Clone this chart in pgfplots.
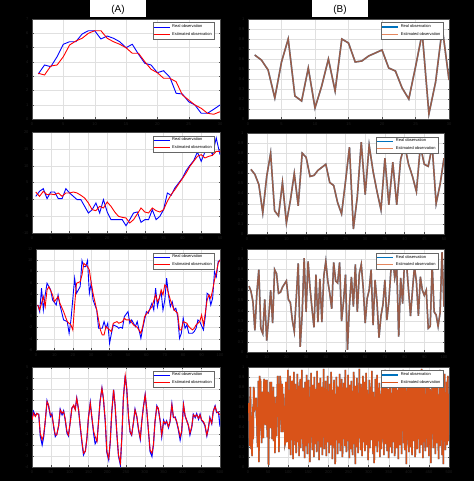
\documentclass[border=0pt]{standalone}
\usepackage{fontspec}
\setmainfont{Liberation Sans}
\usepackage{pgfplots}
\usepackage{pgfplotstable}
\pgfplotsset{compat=1.18}
\definecolor{mblue}{rgb}{0,0.447,0.741}
\definecolor{morange}{rgb}{0.85,0.325,0.098}
\definecolor{ticklab}{RGB}{30,30,30}

\pgfplotsset{
  panel/.style={
    scale only axis, anchor=south west,
    axis background/.style={fill=white},
    grid=major, grid style={black!12, line width=0.3pt},
    axis line style={black!70, line width=0.3pt},
    tick align=inside, major tick length=1.5pt,
    tick style={black!70, line width=0.3pt},
    ticklabel style={font=\fontsize{4}{4}\selectfont, text=ticklab},
    /pgf/number format/assume math mode=true,
    scaled ticks=false,
    yticklabel style={/pgf/number format/fixed},
    legend style={at={(0.97,0.965)}, anchor=north east, draw=black!60,
      line width=0.3pt, font=\fontsize{4}{4.2}\selectfont,
      inner sep=0.4pt, row sep=-1.2pt, cells={anchor=west}},
    legend image code/.code={\draw[#1] (0pt,0pt) -- (16pt,0pt);},
  },
  bpanel/.style={panel, ymin=0, ymax=1, ytick distance=0.1},
}

% Panel (B): real observations (estimates coincide)
\pgfplotstableread[row sep=\\]{
x y\\
1 0.64\\2 0.59\\3 0.49\\4 0.21\\5 0.57\\6 0.80\\7 0.23\\8 0.18\\9 0.51\\10 0.11\\
11 0.33\\12 0.60\\13 0.28\\14 0.80\\15 0.76\\16 0.57\\17 0.58\\18 0.63\\19 0.66\\20 0.69\\
21 0.51\\22 0.48\\23 0.31\\24 0.20\\25 0.52\\26 0.86\\27 0.05\\28 0.37\\29 0.91\\30 0.39\\
31 0.88\\32 0.62\\33 0.42\\34 0.24\\35 0.75\\36 0.29\\37 0.71\\38 0.29\\39 0.74\\40 0.88\\
41 0.69\\42 0.57\\43 0.42\\44 0.87\\45 0.69\\46 0.67\\47 0.87\\48 0.30\\49 0.49\\50 0.75\\
51 0.02\\52 0.45\\53 0.73\\54 0.44\\55 0.85\\56 0.39\\57 0.76\\58 0.85\\59 0.62\\60 0.28\\
61 0.52\\62 0.60\\63 0.80\\64 0.26\\65 0.70\\66 0.48\\67 0.14\\68 0.35\\69 0.46\\70 0.70\\
71 0.31\\72 0.49\\73 0.78\\74 0.91\\75 0.72\\76 0.83\\77 0.15\\78 0.72\\79 0.47\\80 0.91\\
81 0.85\\82 0.60\\83 0.35\\84 0.60\\85 0.83\\86 0.68\\87 0.35\\88 0.73\\89 0.60\\90 0.55\\
91 0.60\\92 0.23\\93 0.25\\94 0.85\\95 0.39\\96 0.36\\97 0.25\\98 0.38\\99 0.97\\100 0.44\\
101 0.52\\102 0.18\\103 0.77\\104 0.35\\105 0.91\\106 0.12\\107 0.64\\108 0.43\\109 0.86\\110 0.27\\
111 0.71\\112 0.08\\113 0.58\\114 0.95\\115 0.31\\116 0.66\\117 0.22\\118 0.83\\119 0.47\\120 0.14\\
121 0.69\\122 0.38\\123 0.93\\124 0.25\\125 0.56\\126 0.81\\127 0.11\\128 0.62\\129 0.44\\130 0.88\\
131 0.19\\132 0.73\\133 0.36\\134 0.97\\135 0.28\\136 0.54\\137 0.16\\138 0.79\\139 0.41\\140 0.67\\
141 0.09\\142 0.85\\143 0.33\\144 0.60\\145 0.21\\146 0.92\\147 0.48\\148 0.13\\149 0.75\\150 0.39\\
151 0.87\\152 0.24\\153 0.63\\154 0.05\\155 0.70\\156 0.45\\157 0.94\\158 0.30\\159 0.57\\160 0.17\\
161 0.82\\162 0.40\\163 0.68\\164 0.10\\165 0.90\\166 0.34\\167 0.61\\168 0.23\\169 0.78\\170 0.50\\
171 0.15\\172 0.96\\173 0.42\\174 0.72\\175 0.26\\176 0.84\\177 0.07\\178 0.59\\179 0.37\\180 0.89\\
181 0.20\\182 0.65\\183 0.46\\184 0.80\\185 0.12\\186 0.74\\187 0.32\\188 0.98\\189 0.53\\190 0.18\\
191 0.70\\192 0.29\\193 0.86\\194 0.43\\195 0.11\\196 0.63\\197 0.38\\198 0.91\\199 0.25\\200 0.76\\
201 0.49\\202 0.14\\203 0.83\\204 0.35\\205 0.60\\206 0.22\\207 0.95\\208 0.41\\209 0.68\\210 0.08\\
211 0.77\\212 0.30\\213 0.55\\214 0.87\\215 0.19\\216 0.66\\217 0.03\\218 0.73\\219 0.44\\220 0.90\\
221 0.27\\222 0.58\\223 0.13\\224 0.80\\225 0.39\\226 0.69\\227 0.24\\228 0.93\\229 0.51\\230 0.16\\
231 0.75\\232 0.34\\233 0.88\\234 0.45\\235 0.10\\236 0.62\\237 0.28\\238 0.84\\239 0.40\\240 0.71\\
241 0.21\\242 0.97\\243 0.36\\244 0.57\\245 0.15\\246 0.79\\247 0.47\\248 0.26\\249 0.92\\250 0.33\\
251 0.64\\252 0.09\\253 0.82\\254 0.42\\255 0.70\\256 0.18\\257 0.86\\258 0.31\\259 0.59\\260 0.12\\
261 0.76\\262 0.44\\263 0.95\\264 0.23\\265 0.67\\266 0.37\\267 0.03\\268 0.81\\269 0.50\\270 0.20\\
271 0.89\\272 0.35\\273 0.61\\274 0.14\\275 0.74\\276 0.46\\277 0.98\\278 0.29\\279 0.65\\280 0.17\\
281 0.83\\282 0.39\\283 0.72\\284 0.11\\285 0.56\\286 0.91\\287 0.25\\288 0.68\\289 0.43\\290 0.85\\
291 0.16\\292 0.60\\293 0.32\\294 0.94\\295 0.48\\296 0.22\\297 0.77\\298 0.37\\299 0.07\\300 0.69\\
301 0.52\\302 0.87\\303 0.19\\304 0.63\\305 0.41\\306 0.80\\307 0.27\\308 0.96\\309 0.34\\310 0.58\\
311 0.13\\312 0.75\\313 0.45\\314 0.04\\315 0.70\\316 0.30\\317 0.88\\318 0.21\\319 0.66\\320 0.38\\
321 0.92\\322 0.15\\323 0.57\\324 0.79\\325 0.26\\326 0.49\\327 0.84\\328 0.10\\329 0.73\\330 0.36\\
331 0.62\\332 0.18\\333 0.90\\334 0.44\\335 0.28\\336 0.81\\337 0.53\\338 0.12\\339 0.70\\340 0.40\\
341 0.97\\342 0.23\\343 0.64\\344 0.35\\345 0.86\\346 0.16\\347 0.59\\348 0.47\\349 0.78\\350 0.09\\
351 0.68\\352 0.31\\353 0.93\\354 0.42\\355 0.20\\356 0.74\\357 0.55\\358 0.14\\359 0.83\\360 0.37\\
361 0.60\\362 0.25\\363 0.89\\364 0.46\\365 0.11\\366 0.71\\367 0.33\\368 0.95\\369 0.50\\370 0.19\\
371 0.77\\372 0.40\\373 0.65\\374 0.08\\375 0.85\\376 0.29\\377 0.58\\378 0.22\\379 0.91\\380 0.43\\
381 0.67\\382 0.13\\383 0.80\\384 0.36\\385 0.54\\386 0.97\\387 0.24\\388 0.72\\389 0.45\\390 0.17\\
391 0.87\\392 0.32\\393 0.61\\394 0.03\\395 0.76\\396 0.39\\397 0.94\\398 0.27\\399 0.56\\400 0.15\\
401 0.82\\402 0.48\\403 0.70\\404 0.20\\405 0.90\\406 0.34\\407 0.63\\408 0.12\\409 0.79\\410 0.43\\
411 0.96\\412 0.26\\413 0.57\\414 0.38\\415 0.85\\416 0.10\\417 0.69\\418 0.31\\419 0.88\\420 0.45\\
421 0.18\\422 0.74\\423 0.52\\424 0.93\\425 0.28\\426 0.60\\427 0.14\\428 0.83\\429 0.41\\430 0.66\\
431 0.22\\432 0.98\\433 0.35\\434 0.71\\435 0.09\\436 0.80\\437 0.47\\438 0.25\\439 0.89\\440 0.55\\
441 0.16\\442 0.73\\443 0.37\\444 0.62\\445 0.92\\446 0.20\\447 0.68\\448 0.44\\449 0.86\\450 0.11\\
451 0.59\\452 0.30\\453 0.78\\454 0.50\\455 0.04\\456 0.75\\457 0.33\\458 0.95\\459 0.42\\460 0.64\\
461 0.19\\462 0.87\\463 0.29\\464 0.70\\465 0.53\\466 0.13\\467 0.84\\468 0.39\\469 0.61\\470 0.24\\
471 0.90\\472 0.46\\473 0.72\\474 0.08\\475 0.67\\476 0.35\\477 0.97\\478 0.21\\479 0.58\\480 0.81\\
481 0.27\\482 0.65\\483 0.12\\484 0.88\\485 0.43\\486 0.03\\487 0.76\\488 0.32\\489 0.93\\490 0.49\\
491 0.17\\492 0.70\\493 0.38\\494 0.85\\495 0.22\\496 0.60\\497 0.91\\498 0.26\\499 0.73\\500 0.44\\
}\Bdata

% Panel A4: x, real, estimated
\pgfplotstableread[row sep=\\]{
x real est\\
0 0.30 0.24\\4 0.99 0.84\\9 0.60 0.54\\13 0.80 0.84\\18 0.75 0.69\\22 -1.20 -0.96\\
27 -2.00 -1.56\\31 -1.30 -1.11\\35 0.00 0.09\\40 1.95 1.89\\44 1.50 1.59\\49 0.55 0.69\\
53 0.80 0.69\\58 -0.50 -0.36\\62 -1.25 -1.11\\66 -1.05 -1.11\\71 -0.30 -0.21\\75 1.20 1.14\\
80 0.70 0.84\\84 1.05 0.99\\88 0.30 0.39\\93 -0.95 -0.81\\97 -1.20 -1.11\\102 0.15 0.09\\
106 1.30 1.29\\111 1.50 1.59\\115 1.20 1.14\\119 2.20 2.19\\124 1.10 1.14\\128 -0.30 -0.21\\
133 -1.85 -1.71\\137 -2.90 -2.75\\142 -2.55 -2.60\\146 -1.45 -1.41\\150 0.40 0.39\\155 1.80 1.74\\
159 0.50 0.54\\164 -1.00 -0.81\\168 -1.90 -1.26\\173 -1.60 -1.71\\177 0.10 0.09\\181 1.90 1.89\\
186 3.10 3.08\\190 2.10 2.19\\195 0.00 0.09\\199 -2.70 -2.60\\204 -3.35 -3.20\\208 -1.80 -1.71\\
212 0.85 0.84\\217 2.95 2.93\\221 1.50 1.59\\226 -1.20 -1.11\\230 -3.00 -2.90\\235 -3.80 -3.65\\
239 -1.30 -1.26\\243 2.20 2.19\\248 4.25 4.22\\252 3.00 3.08\\257 0.35 0.39\\261 -0.90 -0.81\\
265 -1.15 -1.11\\270 0.05 0.09\\274 1.20 1.14\\279 0.45 0.54\\283 -0.60 -0.51\\288 -1.50 -1.41\\
292 0.10 0.09\\296 1.35 1.29\\301 2.50 2.49\\305 1.20 1.29\\310 -0.90 -0.81\\314 -2.60 -2.46\\
319 -3.05 -2.75\\323 -2.00 -2.01\\327 0.00 0.09\\332 1.50 1.44\\336 1.20 1.29\\341 0.10 0.09\\
345 -1.25 -1.11\\350 0.20 0.09\\354 -0.15 -0.06\\358 0.15 0.09\\363 -0.45 -0.36\\367 0.05 0.09\\
372 1.65 1.59\\376 0.45 0.54\\381 0.50 0.39\\385 0.00 0.09\\389 -0.60 -0.51\\394 -1.56 -1.26\\
398 -0.85 -0.81\\403 1.60 1.59\\407 0.60 0.69\\412 0.15 0.09\\416 -0.30 -0.21\\420 -1.11 -0.96\\
425 -0.40 -0.36\\429 0.75 0.69\\434 0.45 0.54\\438 0.80 0.69\\443 0.30 0.39\\447 0.75 0.69\\
451 0.20 0.24\\456 0.00 0.09\\460 -0.30 -0.21\\465 -1.20 -1.11\\469 -0.55 -0.51\\473 0.45 0.39\\
478 -0.10 -0.06\\482 1.00 0.99\\487 1.50 1.44\\491 0.90 0.99\\496 0.95 0.84\\500 -0.36 0.69\\
}\Afour

\begin{document}
\begin{tikzpicture}
\fill[black] (0,0) rectangle (474pt,481pt);

% headers
\fill[white] (90pt,464pt) rectangle (146pt,481pt);
\node[font=\fontsize{10}{12}\selectfont, text=black] at (118pt,471.5pt) {(A)};
\fill[white] (312pt,464pt) rectangle (368pt,481pt);
\node[font=\fontsize{10}{12}\selectfont, text=black] at (340pt,471.5pt) {(B)};

% ---------- A1 ----------
\begin{axis}[panel, at={(32pt,362pt)}, width=188pt, height=100pt,
  xmin=0, xmax=30, xtick distance=5, ymin=0, ymax=7, ytick distance=1]
\addplot[blue, line width=0.9pt] coordinates {(1,3.15)(2,3.78)(3,3.66)(4,4.36)(5,5.23)(6,5.41)(7,5.41)(8,5.95)(9,6.18)(10,6.18)(11,5.60)(12,5.81)(13,5.65)(14,5.41)(15,4.99)(16,5.23)(17,4.53)(18,3.90)(19,3.78)(20,3.24)(21,3.38)(22,2.92)(23,1.80)(24,1.75)(25,1.21)(26,0.98)(27,0.40)(28,0.40)(29,0.68)(30,0.98)};
\addplot[red, line width=0.9pt] coordinates {(1,3.20)(2,3.08)(3,3.71)(4,3.78)(5,4.36)(6,5.18)(7,5.46)(8,5.65)(9,6.00)(10,6.18)(11,6.18)(12,5.65)(13,5.41)(14,5.23)(15,4.99)(16,4.60)(17,4.60)(18,4.01)(19,3.48)(20,3.24)(21,2.85)(22,2.85)(23,2.61)(24,1.68)(25,1.33)(26,0.98)(27,0.75)(28,0.40)(29,0.33)(30,0.51)};
\legend{Real observation, Estimated observation}
\end{axis}

% ---------- B1 ----------
\begin{axis}[bpanel, at={(248pt,362pt)}, width=201pt, height=100pt,
  xmin=0, xmax=30, xtick distance=5]
\addplot[mblue, line width=1.5pt, restrict x to domain=0:30] table {\Bdata};
\addplot[morange, line width=1.5pt, opacity=0.7, restrict x to domain=0:30] table {\Bdata};
\legend{Real observation, Estimated observation}
\end{axis}

% ---------- A2 ----------
\begin{axis}[panel, at={(32pt,248pt)}, width=188pt, height=101pt,
  xmin=0, xmax=50, xtick distance=5, ymin=-10, ymax=20, ytick distance=5]
\addplot[blue, line width=0.9pt] coordinates {(1,0.89)(2,2.38)(3,3.17)(4,0.20)(5,2.18)(6,2.18)(7,0.20)(8,0.20)(9,3.17)(10,1.88)(11,0.89)(12,-0.10)(13,-0.10)(14,-2.08)(15,-4.06)(16,-3.07)(17,-1.09)(18,-4.06)(19,-0.10)(20,-3.76)(21,-6.04)(22,-6.04)(23,-6.04)(24,-6.04)(25,-7.82)(26,-6.04)(27,-4.06)(28,-3.76)(29,-6.83)(30,-6.04)(31,-6.04)(32,-3.07)(33,-6.04)(34,-5.05)(35,-3.07)(36,1.88)(37,1.19)(38,3.37)(39,4.85)(40,6.34)(41,8.51)(42,10.10)(43,11.49)(44,14.06)(45,11.29)(46,14.06)(47,15.74)(48,13.27)(49,18.22)(50,13.27)};
\addplot[red, line width=0.9pt] coordinates {(1,2.18)(2,0.89)(3,2.38)(4,1.39)(5,1.58)(6,1.39)(7,1.88)(8,0.89)(9,1.88)(10,1.88)(11,2.18)(12,1.88)(13,1.19)(14,0.40)(15,-1.09)(16,-3.07)(17,-3.37)(18,-2.08)(19,-2.57)(20,-0.79)(21,-2.08)(22,-3.76)(23,-5.05)(24,-5.35)(25,-5.54)(26,-7.03)(27,-6.04)(28,-4.36)(29,-2.57)(30,-3.76)(31,-4.06)(32,-2.57)(33,-3.37)(34,-3.76)(35,-3.07)(36,-0.59)(37,1.39)(38,2.87)(39,4.55)(40,6.14)(41,7.82)(42,9.80)(43,11.29)(44,12.77)(45,13.27)(46,12.28)(47,12.77)(48,13.07)(49,14.26)(50,14.26)};
\legend{Real observation, Estimated observation}
\end{axis}

% ---------- B2 ----------
\begin{axis}[bpanel, at={(247pt,247pt)}, width=197pt, height=101pt,
  xmin=0, xmax=50, xtick distance=5]
\addplot[mblue, line width=1.5pt, restrict x to domain=0:50] table {\Bdata};
\addplot[morange, line width=1.5pt, opacity=0.7, restrict x to domain=0:50] table {\Bdata};
\legend{Real observation, Estimated observation}
\end{axis}

% ---------- A3 ----------
\begin{axis}[panel, at={(36pt,131pt)}, width=184pt, height=101pt,
  xmin=0, xmax=100, xtick distance=10, ymin=-6, ymax=12, ytick distance=2]
\addplot[blue, line width=0.9pt] coordinates {(1,2.03)(2,0.84)(3,5.00)(4,1.14)(5,3.81)(6,5.89)(8,4.70)(9,2.92)(11,2.03)(12,3.81)(13,2.03)(15,-0.64)(17,-0.94)(18,-3.01)(19,-0.64)(21,6.78)(22,4.11)(24,5.29)(25,9.92)(26,8.85)(27,8.85)(28,9.92)(29,4.11)(30,5.89)(31,2.92)(33,1.14)(34,-2.12)(36,-2.12)(37,-0.94)(38,-2.12)(39,-1.23)(40,-4.80)(41,-3.01)(42,-1.53)(44,-1.83)(45,-2.12)(46,-1.95)(47,-2.12)(48,-0.05)(50,0.84)(51,-1.23)(52,-0.64)(54,-1.83)(55,-0.94)(57,-3.91)(58,-2.12)(59,-0.64)(60,0.84)(61,0.55)(63,2.33)(64,1.14)(65,5.00)(66,1.73)(67,3.22)(68,4.40)(69,1.14)(70,2.92)(71,6.78)(72,3.81)(73,1.73)(74,2.62)(75,1.14)(76,1.44)(77,-0.05)(78,-3.91)(79,-3.01)(80,-0.34)(81,-2.12)(82,-1.53)(83,-3.01)(85,-3.01)(86,-2.72)(87,-2.12)(88,-0.64)(89,-0.94)(91,-2.42)(92,-0.05)(93,4.11)(94,3.81)(95,2.03)(96,3.22)(97,7.96)(98,7.07)(99,9.74)(100,10.04)};
\addplot[red, line width=0.9pt] coordinates {(1,2.03)(2,1.14)(4,3.51)(5,1.73)(6,4.70)(7,5.29)(9,3.81)(10,2.62)(12,3.51)(13,2.33)(15,0.84)(17,-0.94)(19,-1.53)(20,-2.42)(21,2.03)(22,5.89)(24,6.18)(25,7.37)(26,9.45)(28,8.85)(29,8.26)(30,5.89)(31,4.11)(33,1.14)(34,-0.64)(35,-2.42)(36,-3.31)(37,-3.31)(38,-1.83)(40,-2.42)(41,-2.72)(42,-1.23)(44,-0.94)(45,-1.23)(47,-0.94)(48,-0.34)(49,-0.64)(51,-0.64)(53,-1.53)(55,-1.95)(57,-3.01)(58,-1.83)(59,-0.05)(61,0.84)(63,1.73)(65,3.81)(66,2.62)(67,3.22)(68,4.70)(69,3.81)(70,5.59)(71,5.29)(73,2.92)(74,2.03)(75,1.14)(77,0.55)(78,-2.42)(79,-2.42)(80,-0.94)(82,-1.23)(83,-1.83)(85,-2.42)(86,-2.12)(87,-1.53)(89,-0.94)(90,0.25)(91,-1.53)(92,0.55)(93,2.92)(94,3.81)(95,3.22)(96,4.70)(97,6.48)(98,7.67)(99,9.45)(100,10.04)};
\legend{Real observation, Estimated observation}
\end{axis}

% ---------- B3 ----------
\begin{axis}[bpanel, at={(247pt,129pt)}, width=197pt, height=103pt,
  xmin=0, xmax=100, xtick distance=10]
\addplot[mblue, line width=1.5pt, restrict x to domain=0:100] table {\Bdata};
\addplot[morange, line width=1.5pt, opacity=0.7, restrict x to domain=0:100] table {\Bdata};
\legend{Real observation, Estimated observation}
\end{axis}

% ---------- A4 ----------
\begin{axis}[panel, at={(32pt,14pt)}, width=188pt, height=100pt,
  xmin=0, xmax=500, xtick distance=50, ymin=-4, ymax=5, ytick distance=1]
\addplot[blue, line width=1.1pt] table[x=x, y=real] {\Afour};
\addplot[red, line width=0.9pt] table[x=x, y=est] {\Afour};
\legend{Real observation, Estimated observation}
\end{axis}

% ---------- B4 ----------
\begin{axis}[bpanel, at={(248pt,14pt)}, width=201pt, height=100pt,
  xmin=0, xmax=500, xtick distance=50]
\addplot[mblue, line width=1.5pt] table {\Bdata};
\addplot[morange, line width=1.5pt] table {\Bdata};
\legend{Real observation, Estimated observation}
\end{axis}

\pgfresetboundingbox
\path[use as bounding box] (0,0) rectangle (474pt,481pt);
\end{tikzpicture}
\end{document}
